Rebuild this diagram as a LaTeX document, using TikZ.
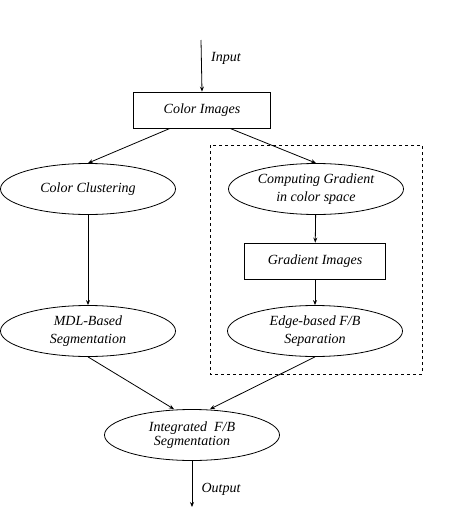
\documentclass[tikz,border=0pt]{standalone}
\usepackage{fontspec}
\setmainfont{Liberation Serif}
\usetikzlibrary{shapes,calc,arrows.meta}

\begin{document}
\begin{tikzpicture}[x=1pt,y=-1pt,line width=0.8pt,>={Stealth[length=5pt,width=4pt]},
  every node/.style={font=\fontsize{14}{18}\selectfont\itshape},
  stepbox/.style={draw,rectangle,minimum height=36pt,inner sep=0pt},
  stage/.style={draw,ellipse,minimum width=175pt,minimum height=51pt,inner sep=0pt,align=center}]
\useasboundingbox (0,0) rectangle (474,525);
% top
\coordinate (in) at (201,40);
\node[stepbox,minimum width=137pt] (ci) at (202,110) {Color Images};
\node at (226,58) {Input};
% left branch
\node[stage] (cc) at (88,189) {Color Clustering};
\node[stage] (mdl) at (88,331) {MDL-Based\\Segmentation};
% right branch
\node[stage] (cg) at (316,189) {Computing Gradient\\in color space};
\node[stepbox,minimum width=141pt] (gi) at (315,261) {Gradient Images};
\node[stage] (eb) at (315,331) {Edge-based F/B\\Separation};
\draw[dashed] (210,145) rectangle (422,374);
% bottom
\node[stage,font=\fontsize{14}{14}\selectfont\itshape] (ig) at (192,435) {Integrated~~F/B\\Segmentation};
\coordinate (out) at (192,507);
\node at (221,489) {Output};
\draw[->] (in) -- (ci.north);
\draw[->] ([xshift=-32pt]ci.south) -- (cc.north);
\draw[->] ([xshift=28pt]ci.south) -- (cg.north);
\draw[->] (cc) -- (mdl);
\draw[->] (cg) -- (gi);
\draw[->] (gi) -- (eb);
\draw[->] (mdl.south) -- ([xshift=-18pt]ig.north);
\draw[->] (eb.south) -- ([xshift=18pt]ig.north);
\draw[->] (ig) -- (out);
\end{tikzpicture}
\end{document}
